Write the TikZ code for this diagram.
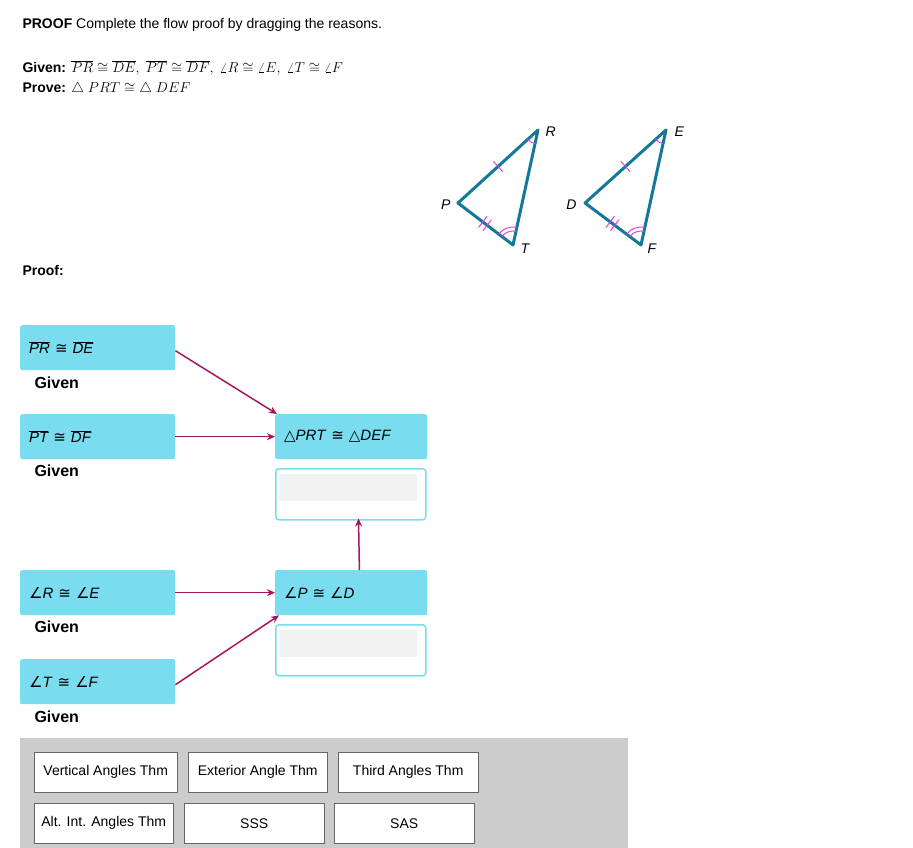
\documentclass[tikz,border=0pt]{standalone}
\usepackage{fontspec}
\setmainfont{Liberation Sans}
\newfontfamily\djv{DejaVu Sans}
\usetikzlibrary{calc,arrows.meta}
\definecolor{cyanbox}{HTML}{7ADDEF}
\definecolor{arr}{HTML}{A0185A}
\definecolor{tri}{HTML}{12799A}
\definecolor{mag}{HTML}{E040E0}
\definecolor{tray}{HTML}{CCCCCC}
\newcommand{\ovl}[1]{$\overline{\hbox{\itshape #1}}$}
\newcommand{\cng}{{\djv ≅}}
\newcommand{\ang}{{\djv ∠}}
\begin{document}
\begin{tikzpicture}[x=1pt,y=-1pt,
 stmt/.style={fill=cyanbox,rounded corners=2pt,minimum width=155pt,minimum height=45pt,anchor=north west,text width=137pt,align=left,font=\fontsize{15}{17}\selectfont},
 rsn/.style={draw=cyanbox,line width=1.5pt,fill=white,rounded corners=3pt,minimum width=150pt,minimum height=51pt,anchor=north west},
 giv/.style={anchor=west,font=\fontsize{16}{18}\selectfont\bfseries},
 btn/.style={draw=black!60,fill=white,minimum height=40pt,anchor=north west,font=\fontsize{14}{16}\selectfont},
 con/.style={draw=arr,line width=1.5pt,-{Stealth[length=8pt,width=7pt]}},
 tr/.style={draw=tri,line width=3pt,line join=round},
 mk/.style={draw=mag,line width=1pt}]
\useasboundingbox (0,0) rectangle (913,848);
\node[anchor=west,font=\fontsize{14}{16}\selectfont] (title) at (19,25) {\textbf{PROOF} Complete the flow proof by dragging the reasons.};
\node[anchor=west,font=\fontsize{14}{16}\selectfont] (given) at (19,68) {\textbf{Given:} $\overline{PR}\cong\overline{DE},\ \overline{PT}\cong\overline{DF},\ \angle R\cong\angle E,\ \angle T\cong\angle F$};
\node[anchor=west,font=\fontsize{14}{16}\selectfont] (prove) at (19,89) {\textbf{Prove:} $\triangle\ PRT\cong\triangle\ DEF$};
\node[anchor=west,font=\fontsize{14}{16}\selectfont\bfseries] (proof) at (19,270) {Proof:};
% triangles
\coordinate (P) at (458,203); \coordinate (R) at (538,130); \coordinate (T) at (513,245);
\coordinate (D) at (585,203); \coordinate (E) at (666,130); \coordinate (F) at (641,245);
\draw[tr] (P)--(R)--(T)--cycle;
\draw[tr] (D)--(E)--(F)--cycle;
\foreach \a/\b/\c in {P/R/T,D/E/F}{
 \draw[mk] ($(\a)!0.5!(\b)!7pt!90:(\b)$) -- ($(\a)!0.5!(\b)!7pt!-90:(\b)$);
 \draw[mk] ($(\a)!0.45!(\c)!7pt!90:(\c)$) -- ($(\a)!0.45!(\c)!7pt!-90:(\c)$);
 \draw[mk] ($(\a)!0.53!(\c)!7pt!90:(\c)$) -- ($(\a)!0.53!(\c)!7pt!-90:(\c)$);
 \draw[mk] ([shift={(102:14)}]\b) arc[start angle=102,end angle=138,radius=14];
 \draw[mk] ([shift={(217:14)}]\c) arc[start angle=217,end angle=282,radius=14];
 \draw[mk] ([shift={(217:18)}]\c) arc[start angle=217,end angle=282,radius=18];
}
\node[font=\fontsize{14}{16}\selectfont\itshape,anchor=east] (lP) at (454,205) {P};
\node[font=\fontsize{14}{16}\selectfont\itshape,anchor=west] (lR) at (542,132) {R};
\node[font=\fontsize{14}{16}\selectfont\itshape] (lT) at (525,249) {T};
\node[font=\fontsize{14}{16}\selectfont\itshape,anchor=east] (lD) at (580,205) {D};
\node[font=\fontsize{14}{16}\selectfont\itshape,anchor=west] (lE) at (671,132) {E};
\node[font=\fontsize{14}{16}\selectfont\itshape] (lF) at (652,249) {F};
% proof boxes
\node[stmt] (s1) at (20,325) {\ovl{PR} \cng{} \ovl{DE}};
\node[giv] (g1) at (31,383) {Given};
\node[stmt] (s2) at (20,414) {\ovl{PT} \cng{} \ovl{DF}};
\node[giv] (g2) at (31,471) {Given};
\node[stmt] (s3) at (20,570) {\ang\textit{R} \cng{} \ang\textit{E}};
\node[giv] (g3) at (31,627) {Given};
\node[stmt] (s4) at (20,659) {\ang\textit{T} \cng{} \ang\textit{F}};
\node[giv] (g4) at (31,717) {Given};
\node[stmt,minimum width=152pt,text width=134pt] (c1) at (275,414) {{\djv △}\textit{PRT} \cng{} {\djv △}\textit{DEF}};
\node[rsn] (r1) at (275,468) {};
\fill[black!5] (279,474) rectangle (417,501);
\node[stmt,minimum width=152pt,text width=134pt] (c2) at (275,570) {\ang\textit{P} \cng{} \ang\textit{D}};
\node[rsn] (r2) at (275,624) {};
\fill[black!5] (279,630) rectangle (417,657);
% connectors
\draw[con] ([yshift=-3pt]s1.east) -- ([xshift=2pt]c1.north west);
\draw[con] (s2.east) -- (c1.west);
\draw[con] (s3.east) -- (c2.west);
\draw[con] ([yshift=-3pt]s4.east) -- ([xshift=4pt]c2.south west);
\draw[con] ([xshift=-68pt]c2.north east) -- ([xshift=-68pt,yshift=2pt]r1.south east);
% tray
\fill[tray] (20,738) rectangle (628,848);
\node[btn,minimum width=143pt] (b1) at (34,752) {Vertical Angles Thm};
\node[btn,minimum width=139pt] (b2) at (188,752) {Exterior Angle Thm};
\node[btn,minimum width=140pt] (b3) at (338,752) {Third Angles Thm};
\node[btn,minimum width=139pt] (b4) at (34,803) {Alt. Int. Angles Thm};
\node[btn,minimum width=140pt] (b5) at (184,803) {SSS};
\node[btn,minimum width=140pt] (b6) at (334,803) {SAS};
\end{tikzpicture}
\end{document}
